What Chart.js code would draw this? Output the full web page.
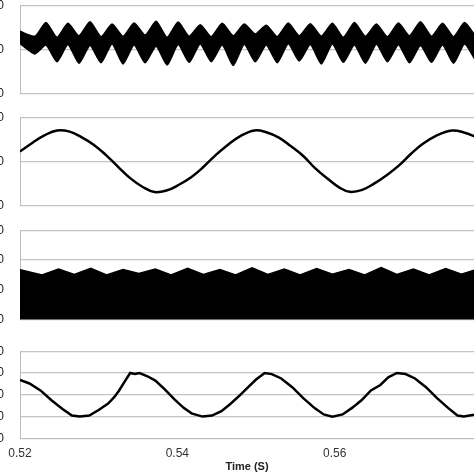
<!DOCTYPE html>
<html>
<head>
<script src="https://cdn.jsdelivr.net/npm/chart.js@4/dist/chart.umd.min.js"></script>
<style>
  html, body { margin:0; padding:0; width:474px; height:474px; overflow:hidden; background:#fff; }
  canvas { position:absolute; left:-20px; }
</style>
</head>
<body>
<canvas id="c1" width="494" height="135" style="top:-18px"></canvas>
<canvas id="c2" width="494" height="135" style="top:94px"></canvas>
<canvas id="c3" width="494" height="136" style="top:207px"></canvas>
<canvas id="c4" width="494" height="146" style="top:328px"></canvas>
<script>
// panel 1: band envelope (upper / lower)
var t1 = [0.5200,0.5219,0.5233,0.5247,0.5261,0.5275,0.5289,0.5303,0.5317,0.5331,0.5345,0.5359,0.5373,0.5387,0.5401,0.5415,0.5429,0.5443,0.5457,0.5471,0.5485,0.5499,0.5513,0.5527,0.5541,0.5555,0.5569,0.5583,0.5597,0.5611,0.5625,0.5639,0.5653,0.5667,0.5681,0.5695,0.5709,0.5723,0.5737,0.5751,0.5765,0.5779];
var up1 = [82,60,122,55,118,62,125,58,115,60,120,65,128,55,124,60,112,58,118,62,115,70,110,58,120,62,116,60,118,55,122,60,115,58,120,62,125,60,118,58,122,60];
var lo1 = [27,-20,20,-55,22,-62,18,-60,25,-65,20,-60,15,-70,22,-58,25,-55,20,-72,24,-55,20,-60,26,-52,22,-65,25,-58,20,-62,24,-55,22,-60,18,-58,20,-62,25,-50];
// panel 2: sine
var t2 = [0.5200,0.5216,0.5231,0.5247,0.5263,0.5278,0.5294,0.5309,0.5325,0.5340,0.5356,0.5371,0.5387,0.5402,0.5418,0.5433,0.5449,0.5464,0.5480,0.5498,0.5513,0.5529,0.5544,0.5560,0.5575,0.5591,0.5606,0.5619,0.5635,0.5650,0.5666,0.5681,0.5697,0.5712,0.5728,0.5749,0.5765,0.5780];
var v2 = [45,85,118,140,135,110,75,30,-25,-75,-115,-138,-130,-105,-70,-25,30,75,115,140,132,108,70,25,-30,-78,-118,-137,-128,-100,-62,-20,35,80,115,140,130,110];
// panel 3: filled band top envelope
var t3 = [0.5200,0.5228,0.5249,0.5269,0.5290,0.5310,0.5331,0.5351,0.5372,0.5392,0.5413,0.5433,0.5454,0.5474,0.5495,0.5515,0.5536,0.5556,0.5577,0.5597,0.5618,0.5638,0.5659,0.5679,0.5700,0.5720,0.5741,0.5761,0.5782];
var v3 = [168,150,170,152,172,150,168,155,170,150,172,152,168,150,174,152,170,150,172,153,168,150,175,152,170,150,172,153,170];
// panel 4: distorted wave
var t4 = [0.5200,0.5212,0.5226,0.5240,0.5254,0.5266,0.5276,0.5288,0.5300,0.5312,0.5320,0.5326,0.5332,0.5340,0.5346,0.5352,0.5362,0.5372,0.5384,0.5396,0.5408,0.5418,0.5432,0.5444,0.5456,0.5468,0.5480,0.5490,0.5500,0.5511,0.5520,0.5532,0.5546,0.5560,0.5574,0.5586,0.5597,0.5610,0.5622,0.5634,0.5646,0.5658,0.5668,0.5679,0.5690,0.5702,0.5716,0.5730,0.5744,0.5756,0.5764,0.5777];
var v4 = [68,52,20,-25,-65,-95,-100,-95,-70,-40,-10,20,55,100,95,100,85,65,25,-20,-60,-85,-100,-95,-75,-40,0,35,70,100,95,75,35,-15,-60,-90,-100,-90,-60,-25,20,45,80,100,95,75,35,-15,-60,-95,-100,-92];
var xTicks = [0.52, 0.54, 0.56];

function pts(t, v) { return t.map(function (x, i) { return { x: x, y: v[i] }; }); }

function makeChart(id, datasets, ymin, ymax, step, showX) {
  new Chart(document.getElementById(id), {
    type: 'line',
    data: { datasets: datasets },
    options: {
      responsive: false, animation: false,
      plugins: { legend: { display: false }, tooltip: { enabled: false } },
      elements: { point: { radius: 0 }, line: { borderColor: '#000', borderWidth: 2.5, tension: 0 } },
      layout: { padding: 0 },
      scales: {
        x: {
          type: 'linear', min: 0.52, max: 0.5777, display: showX,
          afterBuildTicks: function (s) { s.ticks = xTicks.map(function (v) { return { value: v }; }); },
          grid: { display: false },
          border: { display: showX, color: '#bbb' },
          ticks: { padding: 0, color: '#333', font: { family: 'Liberation Sans', size: 12 }, maxRotation: 0,
                   callback: function (v) { return v.toFixed(2); } },
          title: { display: showX, text: 'Time (S)', color: '#222', padding: { top: 0, bottom: 0 },
                   font: { family: 'Liberation Sans', size: 11, weight: 'bold' } }
        },
        y: {
          min: ymin, max: ymax,
          afterFit: function (s) { s.width = 40; },
          grid: { color: '#c4c4c4', lineWidth: 1.3, drawTicks: false },
          border: { color: '#bbb' },
          ticks: { stepSize: step, autoSkip: false, padding: 16, color: '#222', font: { family: 'Liberation Sans', size: 12 } }
        }
      }
    }
  });
}

makeChart('c1', [
  { data: pts(t1, up1), fill: 1, backgroundColor: '#000', borderWidth: 1.5, tension: 0.2 },
  { data: pts(t1, lo1), fill: false, borderWidth: 1.5, tension: 0.2 }
], -200, 200, 200, false);
makeChart('c2', [{ data: pts(t2, v2), fill: false, tension: 0.4 }], -200, 200, 200, false);
makeChart('c3', [{ data: pts(t3, v3), fill: 'origin', backgroundColor: '#000', borderWidth: 1.5 }], 0, 300, 100, false);
makeChart('c4', [{ data: pts(t4, v4), fill: false }], -200, 200, 100, true);
</script>
</body>
</html>
